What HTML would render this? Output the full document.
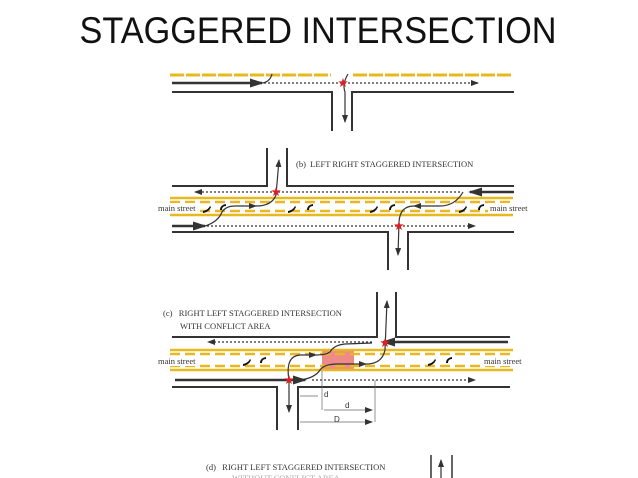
<!DOCTYPE html>
<html><head><meta charset="utf-8"><style>
html,body{margin:0;padding:0;background:#fff;}
svg{display:block;}
</style></head><body>
<svg width="638" height="478" viewBox="0 0 638 478" xmlns="http://www.w3.org/2000/svg">
<defs>
<marker id="ah" markerWidth="8" markerHeight="6" refX="7" refY="3" orient="auto" markerUnits="userSpaceOnUse"><path d="M0,0 L8,3 L0,6 z" fill="#333"/></marker>
<marker id="ahb" markerWidth="14" markerHeight="9" refX="12" refY="4.5" orient="auto" markerUnits="userSpaceOnUse"><path d="M0,0 L14,4.5 L0,9 z" fill="#333"/></marker>
<symbol id="star" viewBox="-5 -5 10 10"><path d="M0,-5 L1.2,-1.6 L4.8,-1.6 L1.9,0.6 L3,4 L0,2 L-3,4 L-1.9,0.6 L-4.8,-1.6 L-1.2,-1.6 z" fill="#e02020"/></symbol>
</defs>
<text x="318" y="43" font-family="Liberation Sans, sans-serif" font-size="37" text-anchor="middle" textLength="477" lengthAdjust="spacingAndGlyphs" fill="#111">STAGGERED INTERSECTION</text>

<g fill="none" stroke-linecap="butt">
<!-- Diagram a -->
<line x1="170" y1="75" x2="331" y2="75" stroke="#e8b820" stroke-width="3" stroke-dasharray="14,2"/>
<line x1="353" y1="75" x2="513" y2="75" stroke="#e8b820" stroke-width="3" stroke-dasharray="14,2"/>
<line x1="172" y1="83" x2="262" y2="83" stroke="#333" stroke-width="2.5" marker-end="url(#ahb)"/>
<line x1="264" y1="83" x2="478" y2="83" stroke="#333" stroke-width="1.2" stroke-dasharray="2,2" marker-end="url(#ah)"/>
<path d="M262,83 Q270,82 272,74" stroke="#333" stroke-width="1.2"/>
<path d="M172,92 H332 V131 M352,131 V92 H514" stroke="#333" stroke-width="2"/>
<path d="M348,74 Q342,84 345,92 L345,122" stroke="#333" stroke-width="1.2" marker-end="url(#ah)"/>

<!-- Diagram b -->
<path d="M267,148 V186 H172 M287,148 V186 H514" stroke="#333" stroke-width="2"/>
<line x1="460" y1="192" x2="195" y2="192" stroke="#333" stroke-width="1.2" stroke-dasharray="2,2" marker-end="url(#ah)"/>
<line x1="514" y1="192" x2="470" y2="192" stroke="#333" stroke-width="2.5" marker-end="url(#ahb)"/>
<line x1="170" y1="198" x2="513" y2="198" stroke="#e8b820" stroke-width="2.5"/>
<line x1="170" y1="202" x2="513" y2="202" stroke="#e8b820" stroke-width="2.5" stroke-dasharray="10,5"/>
<line x1="170" y1="211" x2="513" y2="211" stroke="#e8b820" stroke-width="2.5" stroke-dasharray="10,5"/>
<line x1="170" y1="215" x2="513" y2="215" stroke="#e8b820" stroke-width="2.5"/>
<line x1="172" y1="226" x2="205" y2="226" stroke="#333" stroke-width="2.5" marker-end="url(#ahb)"/>
<line x1="207" y1="226" x2="475" y2="226" stroke="#333" stroke-width="1.2" stroke-dasharray="2,2" marker-end="url(#ah)"/>
<path d="M172,232 H388 V270 M408,270 V232 H514" stroke="#333" stroke-width="2"/>
<path d="M205,226 Q218,222 222,212 Q226,206 235,206 L256,206" stroke="#333" stroke-width="1.2" marker-end="url(#ah)"/>
<path d="M256,206 Q272,206 276,195 L279,160" stroke="#333" stroke-width="1.2" marker-end="url(#ah)"/>
<path d="M463,192 Q455,206 440,206 L414,206" stroke="#333" stroke-width="1.2" marker-end="url(#ah)"/>
<path d="M414,206 Q400,206 399,222 L398,255" stroke="#333" stroke-width="1.2" marker-end="url(#ah)"/>

<!-- Diagram c -->
<path d="M377,292 V337 H172 M396,292 V337 H510" stroke="#333" stroke-width="2"/>
<line x1="372" y1="342" x2="208" y2="342" stroke="#333" stroke-width="1.2" stroke-dasharray="2,2" marker-end="url(#ah)"/>
<line x1="508" y1="342" x2="383" y2="342" stroke="#333" stroke-width="2.5" marker-end="url(#ahb)"/>
<rect x="322" y="351" width="32" height="20" fill="#ee8a8a" stroke="none"/>
<line x1="170" y1="350" x2="513" y2="350" stroke="#e8b820" stroke-width="2.5"/>
<line x1="170" y1="354" x2="513" y2="354" stroke="#e8b820" stroke-width="2.5" stroke-dasharray="10,5"/>
<line x1="170" y1="366" x2="513" y2="366" stroke="#e8b820" stroke-width="2.5" stroke-dasharray="10,5"/>
<line x1="170" y1="370" x2="513" y2="370" stroke="#e8b820" stroke-width="2.5"/>
<line x1="175" y1="380" x2="305" y2="380" stroke="#333" stroke-width="2.5" marker-end="url(#ahb)"/>
<line x1="312" y1="380" x2="475" y2="380" stroke="#333" stroke-width="1.2" stroke-dasharray="2,2" marker-end="url(#ah)"/>
<path d="M172,387 H277 V430 M298,430 V387 H510" stroke="#333" stroke-width="2"/>
<!-- conflict paths -->
<path d="M289,380 Q285,356 300,355 L316,355" stroke="#333" stroke-width="1.2" marker-end="url(#ah)"/>
<path d="M316,355 Q326,355 330,352 Q334,345 345,344 L372,343" stroke="#333" stroke-width="1.2"/>
<path d="M300,380 Q315,378 320,370 Q324,364 338,364 L366,364" stroke="#333" stroke-width="1.2" marker-end="url(#ah)"/>
<path d="M366,364 Q382,364 385,350 L387,301" stroke="#333" stroke-width="1.2" marker-end="url(#ah)"/>
<path d="M289,380 L289,412" stroke="#333" stroke-width="1.2" marker-end="url(#ah)"/>
<!-- dimensions -->
<g stroke="#666" stroke-width="0.7">
<line x1="322" y1="371" x2="322" y2="410"/>
<line x1="375" y1="380" x2="375" y2="422"/>
<line x1="300" y1="396" x2="318" y2="396"/>
<line x1="324" y1="410" x2="372" y2="410" marker-end="url(#ah)"/>
<line x1="300" y1="422" x2="372" y2="422" marker-end="url(#ah)"/>
</g>
</g>
<use href="#star" x="338" y="78" width="10" height="10"/>
<use href="#star" x="271" y="187" width="10" height="10"/>
<use href="#star" x="394" y="221" width="10" height="10"/>
<use href="#star" x="284" y="375" width="10" height="10"/>
<use href="#star" x="380" y="338" width="10" height="10"/>

<!-- label backgrounds -->
<rect x="156" y="203" width="44" height="10" fill="#fff"/>
<rect x="488" y="203" width="44" height="10" fill="#fff"/>
<rect x="156" y="356" width="44" height="10" fill="#fff"/>
<rect x="482" y="356" width="44" height="10" fill="#fff"/>
<g font-family="Liberation Serif, serif" font-size="8.5" fill="#333">
<text x="296" y="167">(b)&#160;&#160;LEFT RIGHT STAGGERED INTERSECTION</text>
<text x="158" y="211">main street</text>
<text x="490" y="211">main street</text>
<text x="163" y="316">(c)&#160;&#160;&#160;RIGHT LEFT STAGGERED INTERSECTION</text>
<text x="180" y="329">WITH CONFLICT AREA</text>
<text x="158" y="364">main street</text>
<text x="484" y="364">main street</text>
<text x="206" y="470">(d)&#160;&#160;&#160;RIGHT LEFT STAGGERED INTERSECTION</text>
</g>
<g font-family="Liberation Sans, sans-serif" font-size="8" fill="#333">
<text x="324" y="397">d</text>
<text x="345" y="408">d</text>
<text x="334" y="422">D</text>
</g>
<!-- small turn arrows -->
<g fill="#111">
<path d="M203,211 q5,-1 7,-5 l1,1 q-2,5 -8,6z"/><path d="M220,210 q0,-5 6,-6 l0,2 q-4,0 -4,4z"/>
<path d="M288,211 q5,-1 7,-5 l1,1 q-2,5 -8,6z"/><path d="M307,210 q0,-5 6,-6 l0,2 q-4,0 -4,4z"/>
<path d="M370,211 q5,-1 7,-5 l1,1 q-2,5 -8,6z"/><path d="M389,210 q0,-5 6,-6 l0,2 q-4,0 -4,4z"/>
<path d="M459,211 q5,-1 7,-5 l1,1 q-2,5 -8,6z"/><path d="M478,210 q0,-5 6,-6 l0,2 q-4,0 -4,4z"/>
<path d="M243,364 q5,-1 7,-5 l1,1 q-2,5 -8,6z"/><path d="M260,363 q0,-5 6,-6 l0,2 q-4,0 -4,4z"/>
<path d="M428,364 q5,-1 7,-5 l1,1 q-2,5 -8,6z"/><path d="M446,363 q0,-5 6,-6 l0,2 q-4,0 -4,4z"/>
</g>
<g fill="none" stroke="#333" stroke-width="1.5">
<path d="M431,455 V478 M452,455 V478"/>
<line x1="441" y1="478" x2="441" y2="460" stroke-width="1.2" marker-end="url(#ah)"/>
</g>
<text x="232" y="481" font-family="Liberation Serif, serif" font-size="8.5" fill="#aaa">WITHOUT CONFLICT AREA</text>
</svg>
</body></html>
